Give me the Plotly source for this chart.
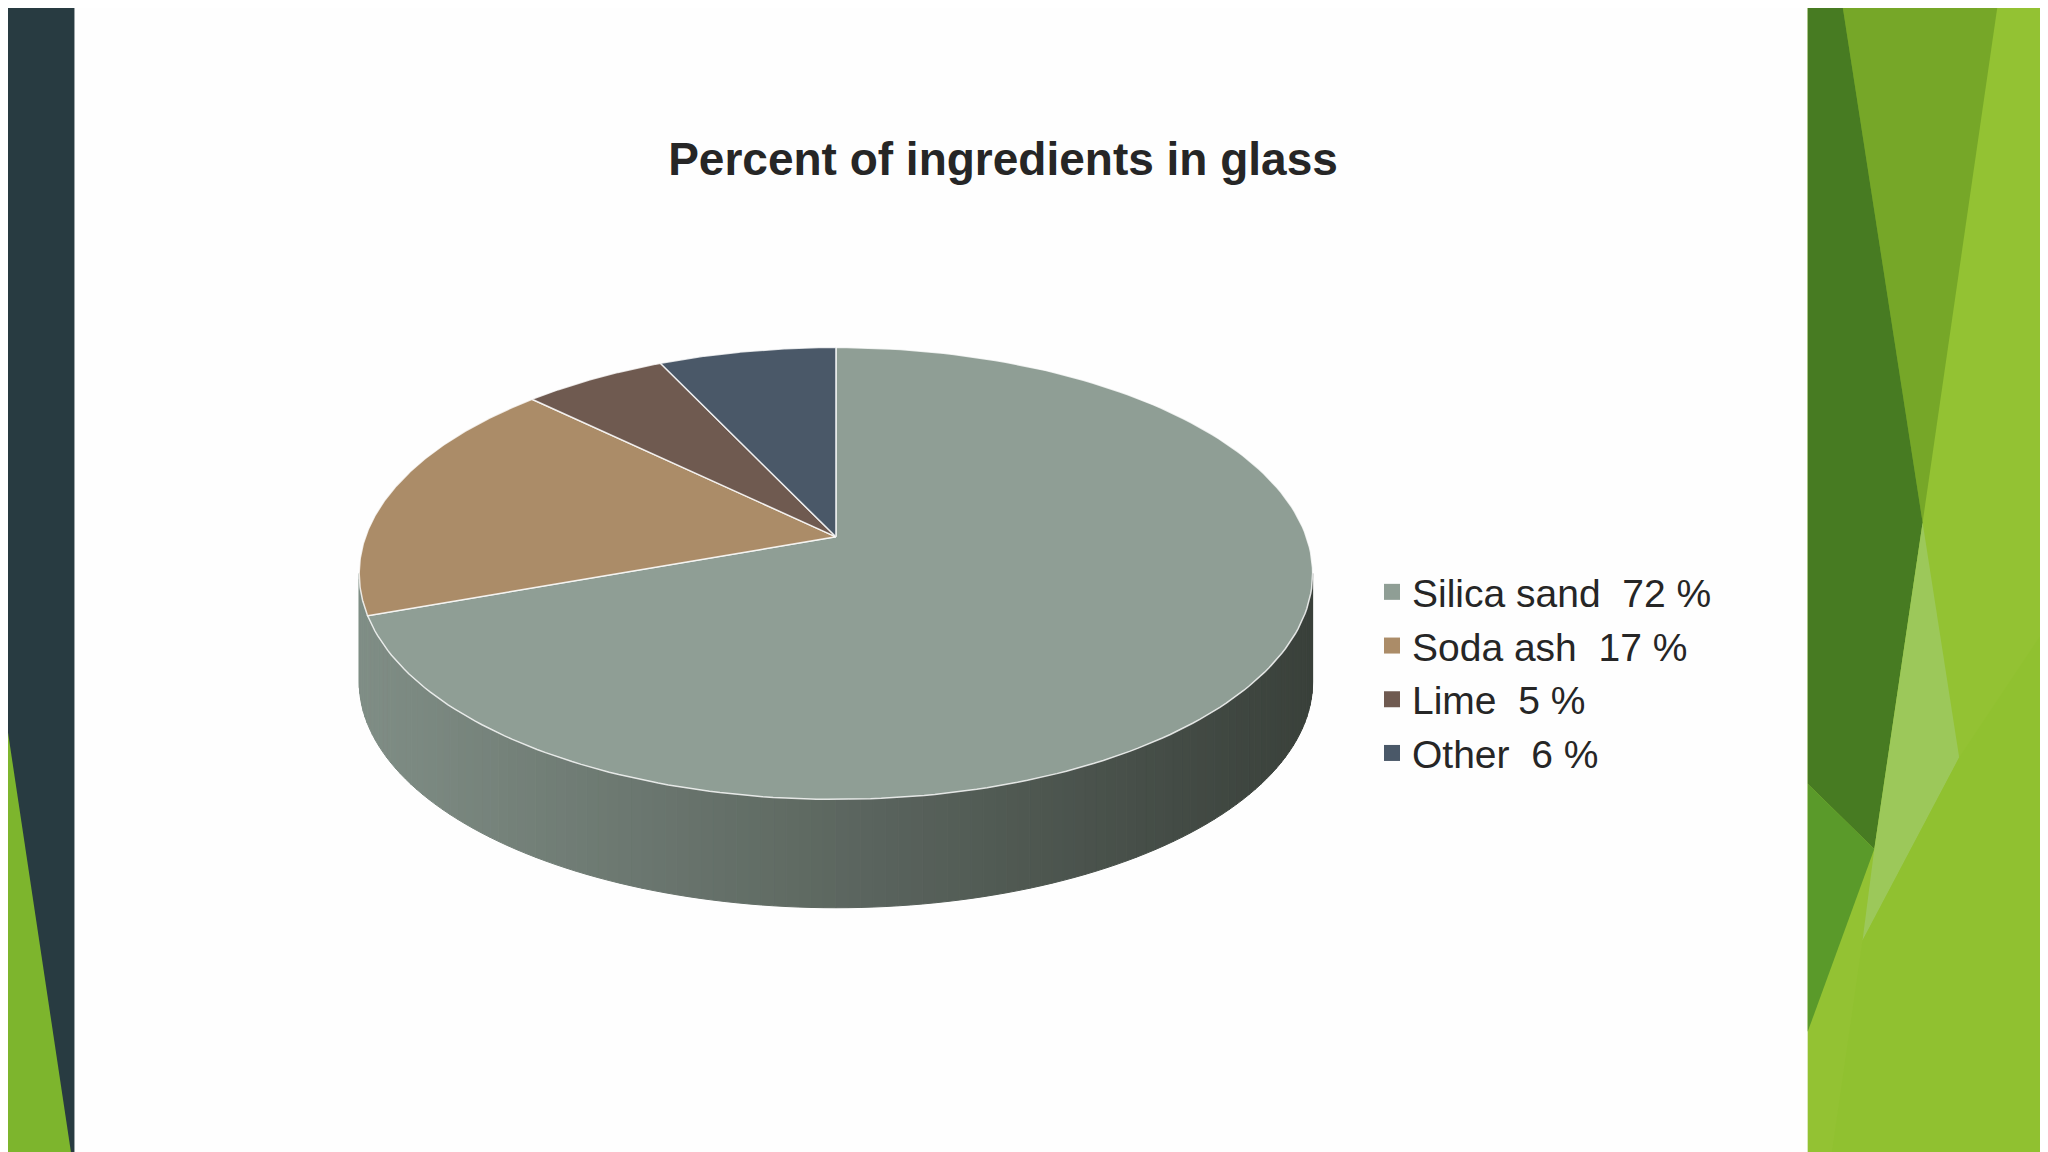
import numpy as np
import plotly.graph_objects as go

labels = ["Silica sand", "Soda ash", "Lime", "Other"]
values = [72, 17, 5, 6]
colors = ["#8f9e95", "#ab8c68", "#6f5a50", "#4a5868"]
title = "Percent of ingredients in glass"

W, H = 2048, 1152
OFF = 8  # compensate page body margin
S = W / 1568
cx, cy, rx, ry, depth = 640*S, 439*S, 365*S, 173*S, 83*S
apx, apy = 640*S, 411*S

fig = go.Figure()

def P(pts):
    xs = [p[0]*S for p in pts]; ys = [p[1]*S for p in pts]
    return "M " + " L ".join(f"{x},{y}" for x, y in zip(xs, ys)) + " Z"

deco = [
    ([(0,0),(57,0),(57,900),(0,900)], "#283b41"),
    ([(0,520),(57,900),(0,900)], "#7db52d"),
    ([(1384,0),(1580,0),(1580,900),(1384,900)], "#93c233"),
    ([(1410,0),(1530,0),(1472,400)], "#76a728"),
    ([(1384,0),(1410,0),(1472,400),(1435,650),(1384,600)], "#477b22"),
    ([(1384,600),(1435,650),(1384,790)], "#5a9a2a"),
    ([(1472,400),(1500,580),(1426,720),(1435,650)], "#9cc85a"),
    ([(1500,580),(1580,460),(1580,900),(1400,900),(1426,720)], "#90c130"),
]
shapes = [dict(type="path", path=P(p), fillcolor=c, line=dict(width=0), layer="below", xref="x", yref="y") for p, c in deco]

total = sum(values)
fr = np.cumsum([0] + values) / total
theta = -np.pi/2 + 2*np.pi*fr

def ex(t): return cx + rx*np.cos(t)
def ey(t): return cy + ry*np.sin(t)

N = 120
ts = np.linspace(0, np.pi, N+1)
for i in range(N):
    a, b = ts[i], ts[i+1]
    f = 1 - (np.cos((a+b)/2) + 1)/2
    r0 = np.array([0x3a, 0x41, 0x3b]); r1 = np.array([0x80, 0x8e, 0x86])
    c = r0 + (r1 - r0)*f
    tt = np.linspace(a, b, 4)
    xs = list(ex(tt)) + list(ex(tt[::-1])) + [ex(a)]
    ys = list(ey(tt)+depth) + list(ey(tt[::-1])) + [ey(a)+depth]
    col = "rgb(%d,%d,%d)" % tuple(c)
    fig.add_trace(go.Scatter(x=xs, y=ys, fill="toself", fillcolor=col, mode="lines",
                             line=dict(width=1, color=col), hoverinfo="skip", showlegend=False))

for i, (lab, v, col) in enumerate(zip(labels, values, colors)):
    tt = np.linspace(theta[i], theta[i+1], 200)
    xs = [apx] + list(ex(tt)) + [apx]
    ys = [apy] + list(ey(tt)) + [apy]
    fig.add_trace(go.Scatter(x=xs, y=ys, fill="toself", fillcolor=col, mode="lines",
                             line=dict(width=1.5, color="rgba(255,255,255,0.8)"),
                             name=lab, hoverinfo="text", text=f"{lab} {v} %", showlegend=False))

for lab, v, col in zip(labels, values, colors):
    fig.add_trace(go.Scatter(x=[None], y=[None], mode="markers",
                             marker=dict(symbol="square", size=17, color=col),
                             name=f"{lab}  {v} %"))

fig.update_layout(
    width=W, height=H, margin=dict(l=0, r=0, t=0, b=0),
    paper_bgcolor="#fefefe", plot_bgcolor="#fefefe",
    xaxis=dict(range=[OFF, W+OFF], visible=False, fixedrange=True),
    yaxis=dict(range=[H+OFF, OFF], visible=False, fixedrange=True),
    shapes=shapes,
    title=dict(text=f"<b>{title}</b>", x=(1003-OFF)/W, xanchor="center", y=1-(159-OFF)/H, yanchor="middle",
               font=dict(family="Liberation Sans, Arial", size=46, color="#262626")),
    legend=dict(x=(1372-OFF)/W, xanchor="left", y=1-(560-OFF)/H, yanchor="top", bgcolor="rgba(0,0,0,0)",
                font=dict(family="Liberation Sans, Arial", size=39, color="#262626"),
                itemwidth=30, tracegroupgap=0),
    showlegend=True,
)
fig.write_html("out.html")
